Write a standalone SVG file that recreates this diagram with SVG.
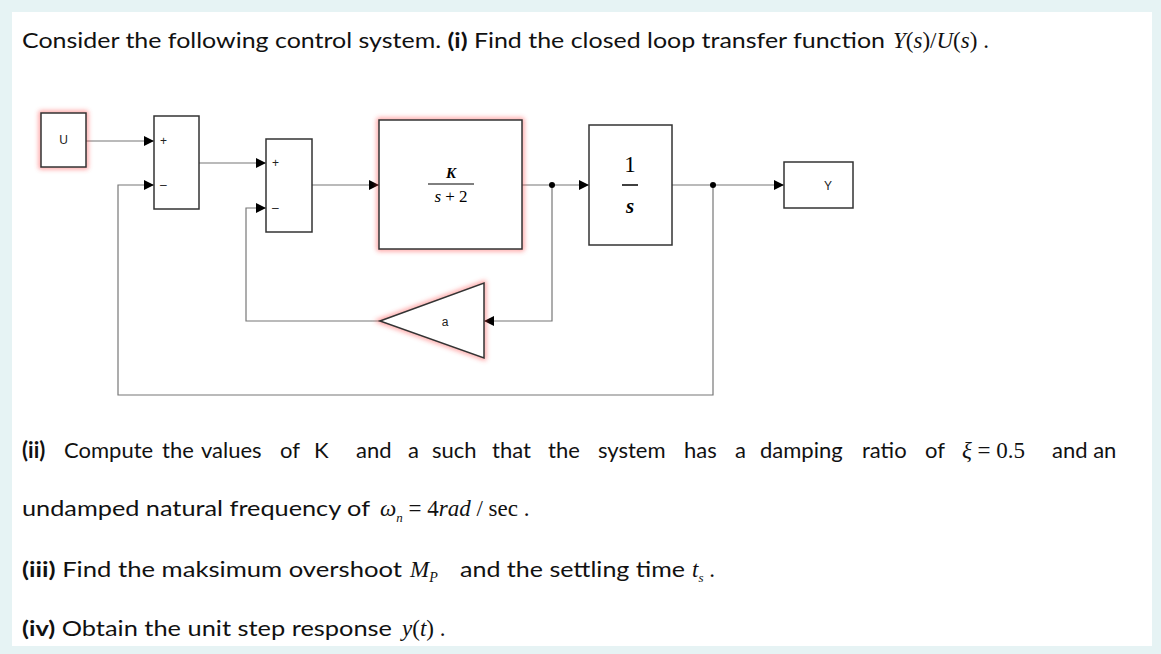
<svg xmlns="http://www.w3.org/2000/svg" width="1161" height="654" viewBox="0 0 1161 654">
<defs>
<marker id="ar" viewBox="0 0 10 10" refX="10" refY="5" markerWidth="10" markerHeight="10" markerUnits="userSpaceOnUse" orient="auto"><path d="M0,0L10,5L0,10z" fill="#000"/></marker>
<filter id="glow" x="-20%" y="-20%" width="140%" height="140%"><feGaussianBlur stdDeviation="2.5"/></filter>
</defs>
<style>
.blk{fill:#fff;stroke:#333;stroke-width:1.5}
.ln{fill:none;stroke:#777;stroke-width:1.2}
.t{font-family:Lato,"Liberation Sans",sans-serif;font-size:21px;fill:#111}
.b{font-weight:bold}
.m{font-family:"Liberation Serif",serif;font-style:italic;font-size:23px;fill:#111}
.s{font-family:"Liberation Sans",sans-serif;font-size:12px;fill:#222}
.red{fill:none;stroke:#f44;stroke-width:4;opacity:0.6}
</style>
<rect width="1161" height="654" fill="#e6f3f4"/>
<rect x="12" y="12" width="1140" height="634" fill="#fff"/>
<g id="connectors">
<path class="ln" d="M86,141H154" marker-end="url(#ar)"/>
<path class="ln" d="M199,163H266" marker-end="url(#ar)"/>
<path class="ln" d="M312,185H379" marker-end="url(#ar)"/>
<path class="ln" d="M522,185H589" marker-end="url(#ar)"/>
<path class="ln" d="M672,185H784" marker-end="url(#ar)"/>
<path class="ln" d="M552,185V321H484" marker-end="url(#ar)"/>
<path class="ln" d="M380,321H246V208H266" marker-end="url(#ar)"/>
<path class="ln" d="M713,185V395H118V185H154" marker-end="url(#ar)"/>
<circle cx="552" cy="185" r="3" fill="#000"/>
<circle cx="713" cy="185" r="3" fill="#000"/>
</g>
<g id="U"><rect class="red" x="41" y="113" width="45" height="54" filter="url(#glow)"/><rect class="blk" x="41" y="113" width="45" height="54"/><text class="s" x="63.5" y="144" text-anchor="middle">U</text></g>
<g id="sum1"><rect class="blk" x="154" y="116" width="45" height="93"/><text class="s" x="160" y="145">+</text><text class="s" x="160" y="189">–</text></g>
<g id="sum2"><rect class="blk" x="266" y="139" width="46" height="93"/><text class="s" x="272" y="167">+</text><text class="s" x="272" y="212">–</text></g>
<g id="plant"><rect class="red" x="379" y="120" width="143" height="129" filter="url(#glow)"/><rect class="blk" x="379" y="120" width="143" height="129"/>
<text x="451" y="178" text-anchor="middle" style="font-family:'Liberation Serif',serif;font-style:italic;font-weight:bold;font-size:15px">K</text>
<line x1="428" y1="184" x2="474" y2="184" stroke="#000" stroke-width="1"/>
<text x="451" y="202" text-anchor="middle" style="font-family:'Liberation Serif',serif;font-size:17px"><tspan font-style="italic">s</tspan> + 2</text></g>
<g id="integrator"><rect class="blk" x="589" y="125" width="83" height="120"/>
<text x="630" y="172" text-anchor="middle" style="font-family:'Liberation Serif',serif;font-size:23px">1</text>
<line x1="622" y1="185" x2="638" y2="185" stroke="#000" stroke-width="1.5"/>
<text x="630" y="213" text-anchor="middle" style="font-family:'Liberation Serif',serif;font-style:italic;font-weight:bold;font-size:21px">s</text></g>
<g id="Y"><rect class="blk" x="784" y="162" width="69" height="46"/><text class="s" x="828" y="190" text-anchor="middle">Y</text></g>
<g id="gain"><polygon class="red" points="380,321 484,283 484,358" filter="url(#glow)"/><polygon class="blk" points="380,321 484,283 484,358"/><text class="s" x="445" y="326" text-anchor="middle">a</text></g>
<text class="t" x="22" y="48" textLength="863" lengthAdjust="spacingAndGlyphs">Consider the following control system. <tspan class="b">(i)</tspan> Find the closed loop transfer function</text>
<text class="m" x="893" y="48">Y<tspan font-style="normal">(</tspan>s<tspan font-style="normal">)/</tspan>U<tspan font-style="normal">(</tspan>s<tspan font-style="normal">) .</tspan></text>
<text class="t" y="458" style="font-size:22px"><tspan class="b" x="22">(ii)</tspan><tspan x="64">Compute</tspan><tspan x="162">the</tspan><tspan x="201">values</tspan><tspan x="280">of</tspan><tspan x="314">K</tspan><tspan x="356">and</tspan><tspan x="408">a</tspan><tspan x="432">such</tspan><tspan x="492">that</tspan><tspan x="548">the</tspan><tspan x="598">system</tspan><tspan x="684">has</tspan><tspan x="735">a</tspan><tspan x="760">damping</tspan><tspan x="862">ratio</tspan><tspan x="925">of</tspan></text>
<text class="m" x="962" y="458">ξ <tspan font-style="normal">= 0.5</tspan></text>
<text class="t" x="1052" y="458" style="font-size:22px">and an</text>
<text class="t" x="22" y="516" textLength="348" lengthAdjust="spacingAndGlyphs">undamped natural frequency of</text>
<text class="m" x="380" y="516">ω<tspan font-size="13" dy="6">n</tspan><tspan font-style="normal" dy="-6"> = 4</tspan>rad<tspan font-style="normal"> / sec .</tspan></text>
<text class="t" x="22" y="577" textLength="380" lengthAdjust="spacingAndGlyphs"><tspan class="b">(iii)</tspan> Find the maksimum overshoot</text>
<text class="m" x="410" y="577">M<tspan font-size="14" dy="5">P</tspan></text>
<text class="t" x="460" y="577" textLength="225" lengthAdjust="spacingAndGlyphs">and the settling time</text>
<text class="m" x="692" y="577">t<tspan font-size="13" dy="5">s</tspan><tspan font-style="normal" dy="-5"> .</tspan></text>
<text class="t" x="22" y="636" textLength="370" lengthAdjust="spacingAndGlyphs"><tspan class="b">(iv)</tspan> Obtain the unit step response</text>
<text class="m" x="402" y="636">y<tspan font-style="normal">(</tspan>t<tspan font-style="normal">) .</tspan></text>
</svg>
